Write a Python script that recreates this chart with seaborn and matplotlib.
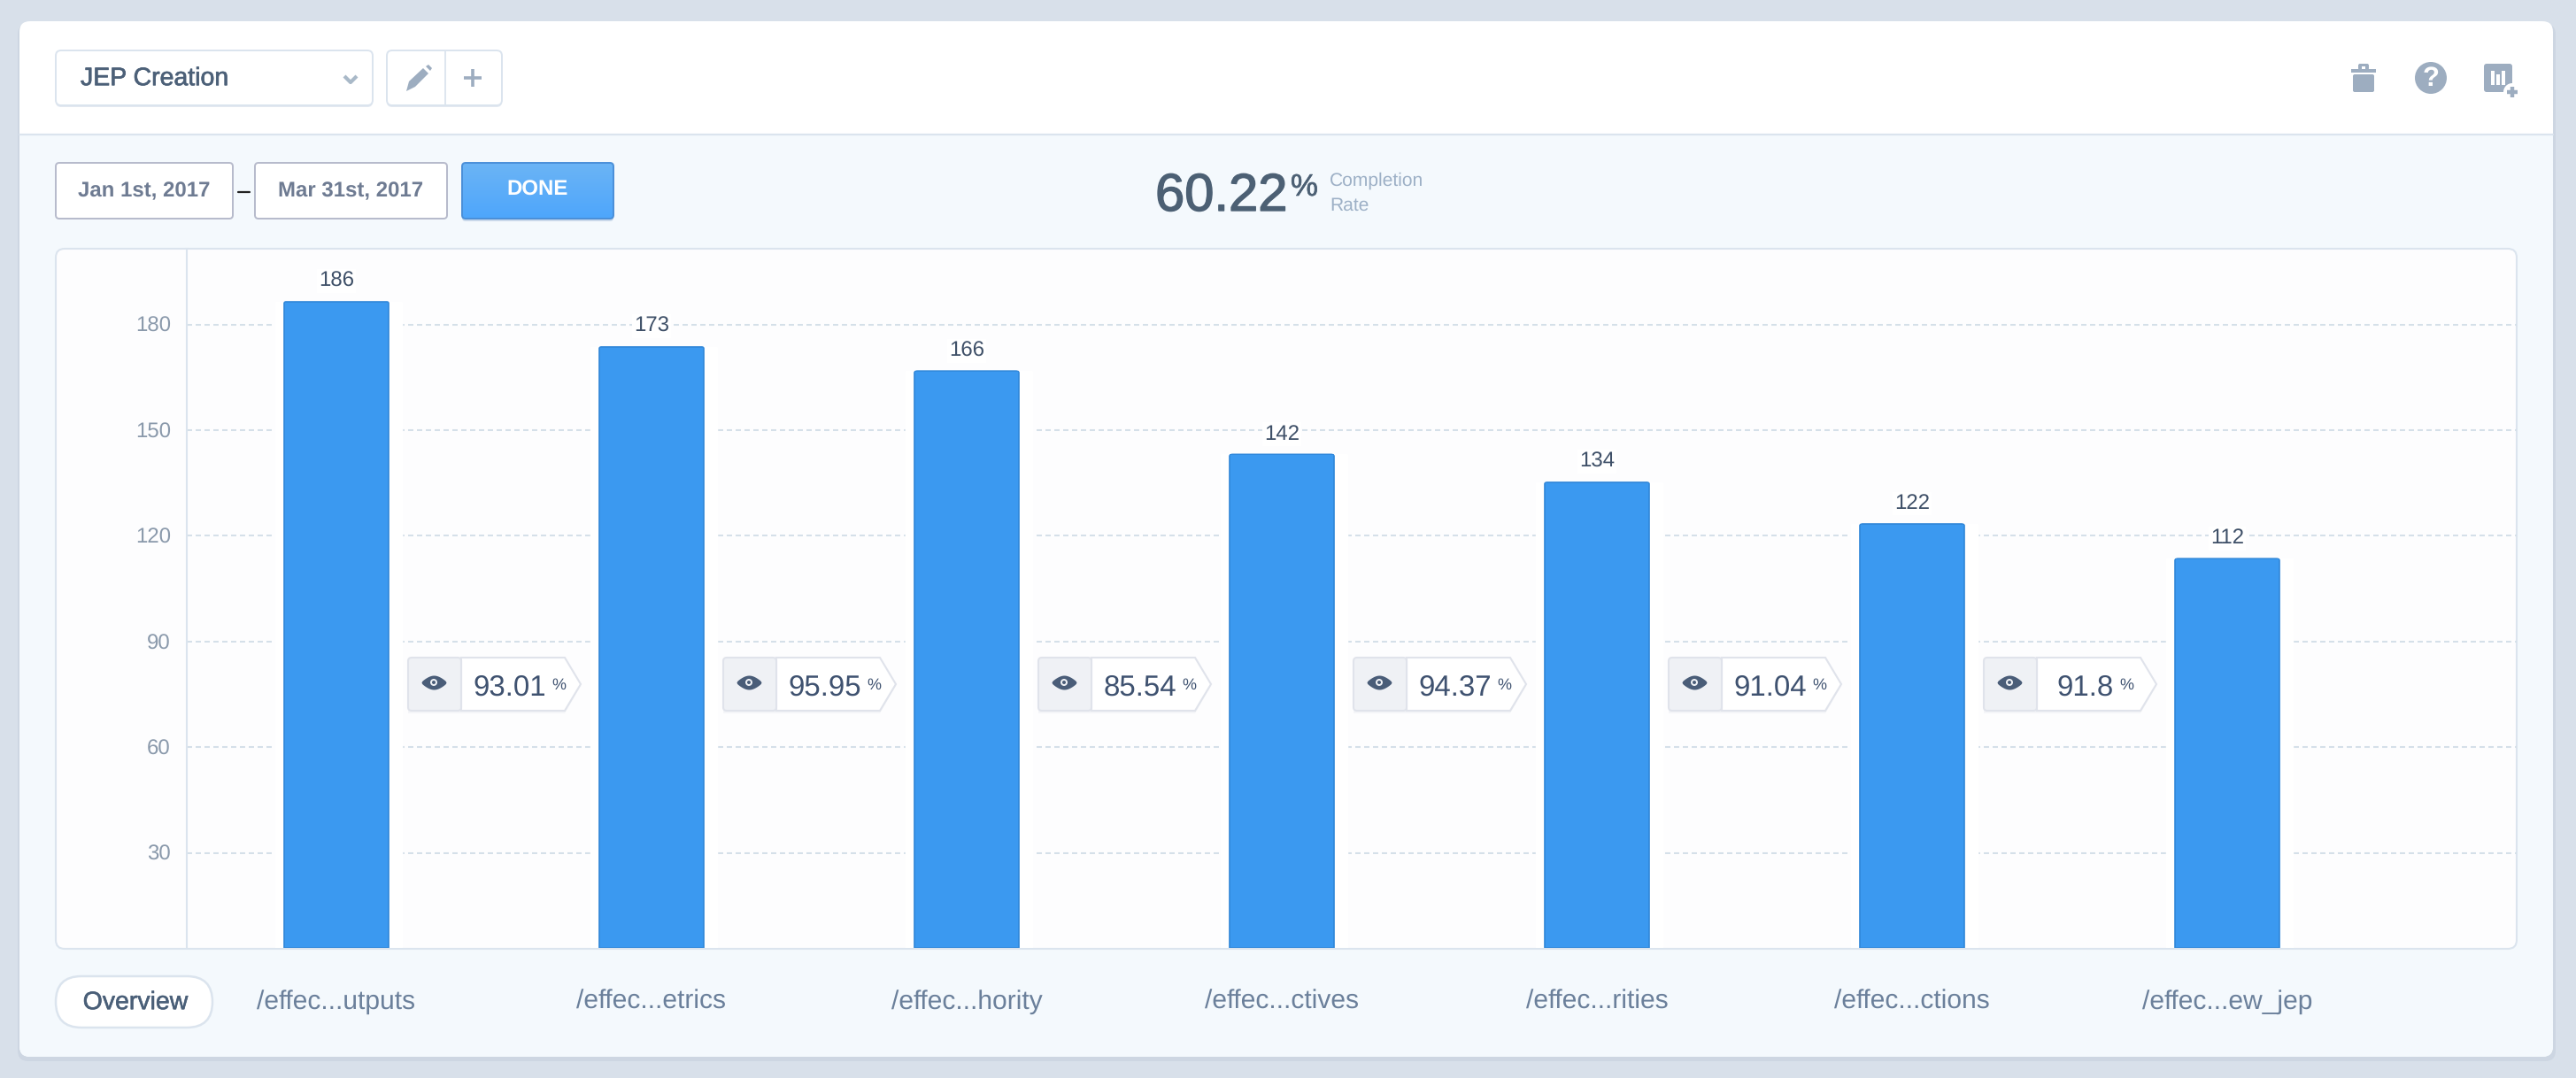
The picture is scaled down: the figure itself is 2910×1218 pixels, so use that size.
import numpy as np
import pandas as pd
import matplotlib
matplotlib.use('Agg')
import matplotlib.pyplot as plt
import matplotlib.patheffects as pe
from matplotlib.patches import FancyBboxPatch, Rectangle, Polygon, Circle
import seaborn as sns

# chart values
paths = ['/effec...utputs', '/effec...etrics', '/effec...hority', '/effec...ctives',
         '/effec...rities', '/effec...ctions', '/effec...ew_jep']
counts = [186, 173, 166, 142, 134, 122, 112]
step_rates = ['93.01', '95.95', '85.54', '94.37', '91.04', '91.8']
y_ticks = [30, 60, 90, 120, 150, 180]
completion_rate = '60.22'

W, H = 2910, 1218
FONT = 'Liberation Sans'
BLUE = '#3b99f0'
ICON = '#9dadc0'
LINE = '#dbe4ee'

sns.set_theme(style='white')
plt.rcParams['font.family'] = [FONT, 'DejaVu Sans']
plt.rcParams['lines.scale_dashes'] = False
plt.rcParams['text.hinting'] = 'no_hinting'
plt.rcParams['text.hinting_factor'] = 1

fig = plt.figure(figsize=(W / 100, H / 100), dpi=100, facecolor='#d8e0ea')


def pixel_axes(zorder):
    a = fig.add_axes([0, 0, 1, 1], zorder=zorder)
    a.set_xlim(0, W)
    a.set_ylim(H, 0)
    a.axis('off')
    return a


def box(a, x0, y0, x1, y1, r=6, fc='white', ec='none', lw=0, **kw):
    p = FancyBboxPatch((x0, y0), x1 - x0, y1 - y0, boxstyle=f'round,pad=0,rounding_size={r}',
                       fc=fc, ec=ec, lw=lw, **kw)
    a.add_patch(p)
    return p


def heavier(color, w=0.5):
    return [pe.withStroke(linewidth=w, foreground=color)]


bg = pixel_axes(0)

# card with header and body
box(bg, 20, 27, 2887, 1199, r=12, fc='#cdd6e2')
card = box(bg, 22, 24, 2884, 1194, r=12, fc='white')
body = Rectangle((22, 153), 2862, 1041, fc='#f4f9fd', ec='none')
bg.add_patch(body)
body.set_clip_path(card)
bg.plot([22, 2884], [152, 152], color=LINE, lw=1.6)

# dropdown and edit buttons
box(bg, 63, 59, 421, 121, fc='#e3e9f1')
box(bg, 63, 57, 421, 119, fc='white', ec=LINE, lw=1.4)
bg.text(91, 89, 'JEP Creation', fontsize=20.5, color='#4c6078', va='center',
        path_effects=heavier('#4c6078'))
bg.plot([389, 396, 403], [86, 93, 86], color='#a9b9c8', lw=3, solid_capstyle='butt')
box(bg, 437, 59, 567, 121, fc='#e3e9f1')
box(bg, 437, 57, 567, 119, fc='white', ec=LINE, lw=1.4)
bg.plot([503, 503], [57, 119], color=LINE, lw=1.3)
bg.add_patch(Polygon([[459, 103], [462, 92], [478, 77], [484, 83], [469, 98]], fc=ICON, ec='none'))
bg.add_patch(Polygon([[481, 75], [484, 73], [488, 77], [486, 80]], fc=ICON, ec='none'))
bg.plot([524, 544], [88, 88], color=ICON, lw=2.6, solid_capstyle='butt')
bg.plot([534, 534], [78, 98], color=ICON, lw=2.6, solid_capstyle='butt')

# header icons on the right
bg.add_patch(Rectangle((2656, 78), 28, 4, fc=ICON, ec='none'))
box(bg, 2658, 84, 2682, 104, r=2, fc=ICON)
box(bg, 2664, 72, 2676, 79, r=2, fc=ICON)
bg.add_patch(Rectangle((2668, 75), 4, 3, fc='white', ec='none'))
bg.add_patch(Circle((2746, 88), 18, fc=ICON, ec='none'))
bg.text(2746, 89, '?', fontsize=22, color='white', fontweight='bold', ha='center', va='center')
box(bg, 2806, 72, 2838, 104, r=3, fc=ICON)
for x0, bar_top in [(2814, 80), (2820, 84), (2826, 80)]:
    bg.add_patch(Rectangle((x0, bar_top), 4, 96 - bar_top, fc='white', ec='none'))
bg.add_patch(Circle((2838, 104), 10, fc='white', ec='none'))
bg.plot([2832, 2844], [104, 104], color=ICON, lw=3.2, solid_capstyle='butt')
bg.plot([2838, 2838], [98, 110], color=ICON, lw=3.2, solid_capstyle='butt')

# date range row
for x0, x1, label in [(63, 263, 'Jan 1st, 2017'), (288, 505, 'Mar 31st, 2017')]:
    box(bg, x0, 184, x1, 247, r=4, fc='white', ec='#b6bacb', lw=1.4)
    bg.text((x0 + x1) / 2, 216, label, fontsize=17.3, fontweight='bold', color='#6e7b92',
            ha='center', va='center')
bg.plot([269, 282], [217, 217], color='#222222', lw=1.6)
box(bg, 522, 187, 693, 250, r=4, fc='#c9d8ea')
done = box(bg, 522, 184, 693, 247, r=4, fc='#4ea6fb')
grad = bg.imshow(np.linspace(0, 1, 64).reshape(-1, 1), extent=(522, 693, 247, 184), aspect='auto',
                 cmap=matplotlib.colors.LinearSegmentedColormap.from_list('d', ['#6bb4f5', '#4ea6fc']),
                 zorder=2)
grad.set_clip_path(done)
box(bg, 522, 184, 693, 247, r=4, fc='none', ec='#4a8fd8', lw=1.4, zorder=2.5)
bg.set_xlim(0, W)
bg.set_ylim(H, 0)
bg.text(607, 215, 'DONE', fontsize=17.5, fontweight='bold', color='white', ha='center', va='center')

# completion rate
bg.text(1305, 238, completion_rate, fontsize=43, color='#4c6074', va='baseline',
        path_effects=heavier('#4c6074', 1.0))
bg.text(1458, 221, '%', fontsize=25, color='#4c6074', va='baseline', path_effects=heavier('#4c6074'))
bg.text(1502, 210, 'Completion', fontsize=15, color='#9db0c6', va='baseline')
bg.text(1502, 238, 'Rate', fontsize=15, color='#9db0c6', va='baseline')

# chart frame
box(bg, 63, 281, 2843, 1072, r=10, fc='#fdfdfe', ec=LINE, lw=1.5)

# overview pill under the chart
box(bg, 63, 1103, 240, 1161, r=29, fc='white', ec=LINE, lw=1.8)
bg.text(152, 1133, 'Overview', fontsize=20.5, color='#4a5f78', ha='center', va='center',
        path_effects=heavier('#4a5f78', 0.4))

plot_rect = [211 / W, 1 - 1071 / H, (2843 - 211) / W, (1071 - 281) / H]

# in the screenshot the ticks and grid run on a slightly different scale from the bars,
# so the tick axis and the bar axis are kept apart
axis_ax = fig.add_axes(plot_rect, zorder=1)
axis_ax.patch.set_visible(False)
axis_ax.set_ylim(3.0, 201.5)
axis_ax.set_yticks(y_ticks)
axis_ax.set_xticks([])
axis_ax.grid(axis='y', color='#d5e0e9', lw=1.45, linestyle=(0, (4.3, 2.9)))
axis_ax.tick_params(axis='y', length=0, pad=13, labelsize=17.5, labelcolor='#8a99ab')
for s in ['top', 'right', 'bottom']:
    axis_ax.spines[s].set_visible(False)
axis_ax.spines['left'].set_color(LINE)
axis_ax.spines['left'].set_linewidth(1.5)

# the bars
ax = fig.add_axes(plot_rect, zorder=2)
ax.patch.set_visible(False)
df = pd.DataFrame({'path': paths, 'count': counts})
# white halo cuts the grid lines around each bar
sns.barplot(data=df, x='path', y='count', color='white', saturation=1, width=0.404, ax=ax, zorder=2)
for p in ax.containers[0]:
    p.set_x(p.get_x() + 2.5 / 356)
sns.barplot(data=df, x='path', y='count', color=BLUE, saturation=1, width=0.334, ax=ax,
            edgecolor='#2f86d8', linewidth=1.2, zorder=3)
ax.set_xlim(-169 / 356, (2843 - 380) / 356)
ax.set_ylim(0, 201.2)
ax.set_xlabel('')
ax.set_ylabel('')
ax.set_yticks([])
ax.tick_params(axis='x', length=0, pad=34, labelsize=21.5, labelcolor='#6b809b')
for s in ['top', 'right', 'bottom', 'left']:
    ax.spines[s].set_visible(False)
ax.bar_label(ax.containers[1], padding=8.5, fontsize=17.5, color='#3f5068',
             bbox=dict(fc='white', ec='none', pad=1.5), zorder=4)

# round the top corners of the bars, keeping what the library laid out
fig.canvas.draw()
for p in ax.containers[1]:
    e = p.get_window_extent()
    clip = FancyBboxPatch((e.x0 - 1, e.y0 - 8), e.width + 2, e.height + 9,
                          boxstyle='round,pad=0,rounding_size=5', transform=None)
    p.set_clip_path(clip)

# conversion tags between the bars
top = pixel_axes(3)
eye_x = np.linspace(-14, 14, 41)
eye_h = 8 * np.sqrt(1 - (eye_x / 14) ** 2) * (0.55 + 0.45 * np.cos(eye_x / 14 * np.pi / 2))
renderer = fig.canvas.get_renderer()
for i, rate in enumerate(step_rates):
    x = 461 + 356 * i
    top.add_patch(Polygon([[x, 745], [x + 177, 745], [x + 195, 775], [x + 177, 806], [x, 806]],
                          fc='#f4f5f8', ec='none'))
    top.add_patch(Polygon([[x + 60, 743], [x + 177, 743], [x + 195, 773], [x + 177, 803], [x + 60, 803]],
                          fc='white', ec='#e0e3eb', lw=1.5, joinstyle='miter'))
    box(top, x, 743, x + 60, 803, r=4, fc='#eff1f5', ec='#e0e3eb', lw=1.5)
    top.fill_between(x + 29 + eye_x, 771 - eye_h, 771 + eye_h, color='#4a5d78', lw=0)
    top.add_patch(Circle((x + 29, 771), 4, fc='#eff1f5', ec='none'))
    top.add_patch(Circle((x + 29, 771), 2, fc='#4a5d78', ec='none'))
    # value and % sign are centred together in the right part of the tag
    txt = top.text(0, 786, rate, fontsize=24, color='#3f5270', va='baseline')
    sign = top.text(0, 779, '%', fontsize=13, color='#3f5270', va='baseline')
    w_txt = txt.get_window_extent(renderer).width
    w_sign = sign.get_window_extent(renderer).width
    start = x + 126 - (w_txt + 6 + w_sign) / 2
    txt.set_x(start)
    sign.set_x(start + w_txt + 6)

fig.savefig('out.png', dpi=100, facecolor=fig.get_facecolor())
